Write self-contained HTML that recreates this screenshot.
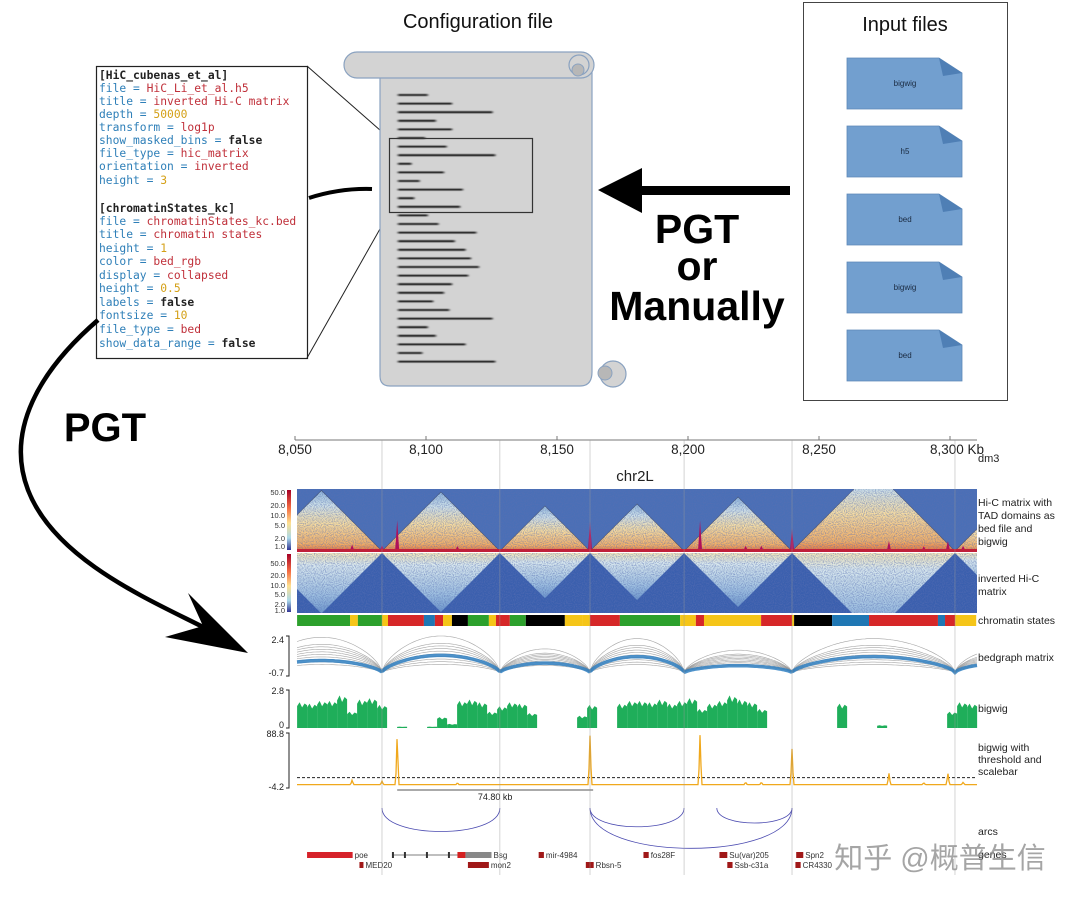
<!DOCTYPE html>
<html><head><meta charset="utf-8">
<style>
html,body{margin:0;padding:0;background:#fff;}
svg{display:block;}
text{font-family:"Liberation Sans","DejaVu Sans",sans-serif;}
.mono text{font-family:"DejaVu Sans Mono","Liberation Mono",monospace;font-size:11.3px;}
</style></head>
<body>
<svg id="fig" width="1080" height="903" viewBox="0 0 1080 903" xmlns="http://www.w3.org/2000/svg">
<defs>
  <linearGradient id="tadG" x1="0" y1="1" x2="0" y2="0">
    <stop offset="0" stop-color="#e8743a"/>
    <stop offset="0.12" stop-color="#f3b066"/>
    <stop offset="0.45" stop-color="#f7dca0"/>
    <stop offset="0.75" stop-color="#cfe1e8"/>
    <stop offset="1" stop-color="#8fb6da"/>
  </linearGradient>
  <linearGradient id="invG" x1="0" y1="0" x2="0" y2="1">
    <stop offset="0" stop-color="#f4e6b8"/>
    <stop offset="0.2" stop-color="#d9e8ee"/>
    <stop offset="0.7" stop-color="#9dbfe0"/>
    <stop offset="1" stop-color="#6d97cc"/>
  </linearGradient>
  <linearGradient id="cbar" x1="0" y1="0" x2="0" y2="1">
    <stop offset="0" stop-color="#a50026"/><stop offset="0.3" stop-color="#f46d43"/>
    <stop offset="0.55" stop-color="#fee090"/><stop offset="0.8" stop-color="#abd9e9"/>
    <stop offset="1" stop-color="#313695"/>
  </linearGradient>
  <filter id="noise" x="0" y="0" width="100%" height="100%">
    <feTurbulence type="fractalNoise" baseFrequency="0.9" numOctaves="1" seed="3"/>
    <feColorMatrix values="0 0 0 0 0.1  0 0 0 0 0.16  0 0 0 0 0.45  0 0 0 3 -1.2"/>
  </filter>
  <filter id="blur1" x="-10%" y="-50%" width="120%" height="200%"><feGaussianBlur stdDeviation="1.2 0.5"/></filter>
  <clipPath id="hicClip"><rect x="297" y="489" width="680" height="62"/></clipPath>
  <clipPath id="invClip"><rect x="297" y="553" width="680" height="60"/></clipPath>
</defs>

<!-- ============ CONFIG BOX ============ -->
<rect x="96.5" y="66.5" width="211" height="292" fill="#fff" stroke="#222" stroke-width="1.2"/>
<g class="mono">
<text x="99" y="79"><tspan fill="#222" font-weight="bold">[HiC_cubenas_et_al]</tspan></text>
<text x="99" y="92"><tspan fill="#2e7fb8">file = </tspan><tspan fill="#c0303a">HiC_Li_et_al.h5</tspan></text>
<text x="99" y="105"><tspan fill="#2e7fb8">title = </tspan><tspan fill="#c0303a">inverted Hi-C matrix</tspan></text>
<text x="99" y="118"><tspan fill="#2e7fb8">depth = </tspan><tspan fill="#d4a017">50000</tspan></text>
<text x="99" y="131"><tspan fill="#2e7fb8">transform = </tspan><tspan fill="#c0303a">log1p</tspan></text>
<text x="99" y="144"><tspan fill="#2e7fb8">show_masked_bins = </tspan><tspan fill="#222" font-weight="bold">false</tspan></text>
<text x="99" y="157"><tspan fill="#2e7fb8">file_type = </tspan><tspan fill="#c0303a">hic_matrix</tspan></text>
<text x="99" y="170"><tspan fill="#2e7fb8">orientation = </tspan><tspan fill="#c0303a">inverted</tspan></text>
<text x="99" y="184"><tspan fill="#2e7fb8">height = </tspan><tspan fill="#d4a017">3</tspan></text>
<text x="99" y="212"><tspan fill="#222" font-weight="bold">[chromatinStates_kc]</tspan></text>
<text x="99" y="225"><tspan fill="#2e7fb8">file = </tspan><tspan fill="#c0303a">chromatinStates_kc.bed</tspan></text>
<text x="99" y="238"><tspan fill="#2e7fb8">title = </tspan><tspan fill="#c0303a">chromatin states</tspan></text>
<text x="99" y="252"><tspan fill="#2e7fb8">height = </tspan><tspan fill="#d4a017">1</tspan></text>
<text x="99" y="265"><tspan fill="#2e7fb8">color = </tspan><tspan fill="#c0303a">bed_rgb</tspan></text>
<text x="99" y="279"><tspan fill="#2e7fb8">display = </tspan><tspan fill="#c0303a">collapsed</tspan></text>
<text x="99" y="292"><tspan fill="#2e7fb8">height = </tspan><tspan fill="#d4a017">0.5</tspan></text>
<text x="99" y="306"><tspan fill="#2e7fb8">labels = </tspan><tspan fill="#222" font-weight="bold">false</tspan></text>
<text x="99" y="319"><tspan fill="#2e7fb8">fontsize = </tspan><tspan fill="#d4a017">10</tspan></text>
<text x="99" y="333"><tspan fill="#2e7fb8">file_type = </tspan><tspan fill="#c0303a">bed</tspan></text>
<text x="99" y="347"><tspan fill="#2e7fb8">show_data_range = </tspan><tspan fill="#222" font-weight="bold">false</tspan></text>
</g>

<!-- zoom lines -->
<line x1="307" y1="66" x2="389" y2="138" stroke="#222" stroke-width="1"/>
<line x1="307" y1="358" x2="389" y2="213" stroke="#222" stroke-width="1"/>
<path d="M309,198 Q340,188 372,189" fill="none" stroke="#000" stroke-width="4"/>

<!-- ============ SCROLL ============ -->
<text x="478" y="28" font-size="20" text-anchor="middle" fill="#111">Configuration file</text>
<g>
  <path d="M380,70 L592,70 L592,372 Q592,386 580,386 L390,386 Q380,386 380,376 Z" fill="#d3d3d3" stroke="#8aa2c0" stroke-width="1.2"/>
  <rect x="344" y="52" width="250" height="26" rx="13" fill="#d3d3d3" stroke="#8aa2c0" stroke-width="1.2"/>
  <circle cx="579" cy="65" r="10" fill="#d3d3d3" stroke="#8aa2c0" stroke-width="1.2"/>
  <circle cx="578" cy="70" r="6" fill="#b7b7b7" stroke="#8aa2c0" stroke-width="1"/>
  <circle cx="613" cy="374" r="13" fill="#d3d3d3" stroke="#8aa2c0" stroke-width="1.2"/>
  <circle cx="605" cy="373" r="7" fill="#b7b7b7" stroke="#8aa2c0" stroke-width="1"/>
  <g id="scrollLines" filter="url(#blur1)"></g>
  <rect x="389.5" y="138.5" width="143" height="74" fill="none" stroke="#333" stroke-width="1.2"/>
</g>

<!-- ============ ARROW PGT or Manually ============ -->
<g>
  <rect x="638" y="186" width="152" height="9" fill="#000"/>
  <polygon points="598,190 642,168 642,213" fill="#000"/>
</g>
<g font-weight="bold" fill="#000" text-anchor="middle">
  <text x="697" y="243" font-size="41">PGT</text>
  <text x="697" y="280" font-size="41">or</text>
  <text x="697" y="320" font-size="41">Manually</text>
</g>

<!-- ============ INPUT FILES ============ -->
<rect x="803.5" y="2.5" width="204" height="398" fill="#fff" stroke="#444" stroke-width="1"/>
<text x="905" y="31" font-size="20" text-anchor="middle" fill="#111">Input files</text>
<g id="files"></g>

<!-- ============ LEFT PGT CURVE ============ -->
<path d="M98,320 C40,370 5,430 28,490 C55,560 150,600 205,628" fill="none" stroke="#000" stroke-width="4.5"/>
<polygon points="188,593 248,653 165,637 203,626" fill="#000"/>
<text x="105" y="441" font-size="40" font-weight="bold" text-anchor="middle" fill="#000">PGT</text>

<!-- ============ GENOME TRACKS ============ -->
<g id="tracks">
  <line x1="295" y1="440" x2="977" y2="440" stroke="#777" stroke-width="1"/>
  <g id="xTicks"></g>
  <text x="978" y="462" font-size="11" fill="#222">dm3</text>
  <text x="635" y="481" font-size="15" text-anchor="middle" fill="#222">chr2L</text>

  <!-- Hi-C -->
  <g clip-path="url(#hicClip)">
    <rect x="297" y="489" width="680" height="62" fill="#4a6fb6"/>
    <g id="hicTads"></g>
    <rect x="297" y="489" width="680" height="62" filter="url(#noise)" opacity="0.55"/>
    <g id="hicSig"></g>
  </g>
  <rect x="297" y="549" width="680" height="3" fill="#c0203a"/>
  <g clip-path="url(#invClip)">
    <rect x="297" y="553" width="680" height="60" fill="#3a5fae"/>
    <g id="invTads"></g>
    <rect x="297" y="553" width="680" height="60" filter="url(#noise)" opacity="0.55"/>
  </g>
  <rect x="287" y="490" width="4" height="60" fill="url(#cbar)"/>
  <rect x="287" y="554" width="4" height="58" fill="url(#cbar)"/>
  <g font-size="7.5" fill="#333" text-anchor="end">
    <text x="285" y="495">50.0</text><text x="285" y="508">20.0</text><text x="285" y="518">10.0</text><text x="285" y="528">5.0</text><text x="285" y="541">2.0</text><text x="285" y="549">1.0</text>
    <text x="285" y="566">50.0</text><text x="285" y="578">20.0</text><text x="285" y="588">10.0</text><text x="285" y="597">5.0</text><text x="285" y="607">2.0</text><text x="285" y="613">1.0</text>
  </g>

  <g id="chrom"></g>
  <g id="bedgraph"></g>
  <g id="bigwig"></g>
  <g id="thresh"></g>
  <g id="arcs"></g>
  <g id="genes"></g>
  <g id="grid"></g>

  <g font-size="10.5" fill="#222">
    <text x="978" y="506">Hi-C matrix with</text>
    <text x="978" y="519">TAD domains as</text>
    <text x="978" y="532">bed file and</text>
    <text x="978" y="545">bigwig</text>
    <text x="978" y="582">inverted Hi-C</text>
    <text x="978" y="595">matrix</text>
    <text x="978" y="624">chromatin states</text>
    <text x="978" y="661">bedgraph matrix</text>
    <text x="978" y="712">bigwig</text>
    <text x="978" y="751">bigwig with</text>
    <text x="978" y="763">threshold and</text>
    <text x="978" y="775">scalebar</text>
    <text x="978" y="835">arcs</text>
    <text x="978" y="858">genes</text>
  </g>
</g>

<text x="940" y="868" font-size="29" text-anchor="middle" fill="#888" opacity="0.75" font-family="'Liberation Sans','Noto Sans CJK SC',sans-serif">知乎 @概普生信</text>

<script>
// ---------- data ----------
const tickKb = [8050, 8100, 8150, 8200, 8250, 8300];
const tickLabels = ["8,050", "8,100", "8,150", "8,200", "8,250", "8,300 Kb"];
const gridKb = [8083.2, 8128.2, 8162.6, 8198.5, 8239.7, 8301.9];
const tadStartKb = [8037.0, 8083.2, 8128.2, 8162.6, 8198.5, 8239.7, 8301.9];
const tadEndKb   = [8083.2, 8128.2, 8162.6, 8198.5, 8239.7, 8301.9, 8330.0];
const stateStartKb = [8050.8,8071.0,8074.0,8083.2,8085.5,8099.2,8103.4,8106.5,8109.9,8116.0,8124.0,8126.7,8132.0,8138.1,8153.0,8159.9,8162.6,8174.0,8197.0,8203.0,8206.1,8227.9,8239.7,8240.5,8255.0,8269.1,8295.4,8298.1,8302.0];
const stateEndKb   = [8071.0,8074.0,8083.2,8085.5,8099.2,8103.4,8106.5,8109.9,8116.0,8124.0,8126.7,8132.0,8138.1,8153.0,8159.9,8162.6,8174.0,8197.0,8203.0,8206.1,8227.9,8239.7,8240.5,8255.0,8269.1,8295.4,8298.1,8302.0,8310.0];
const stateType = ["g","y","g","y","r","b","r","y","k","g","y","r","g","k","y","y","r","g","y","r","y","r","y","k","b","r","b","r","y"];
const bedgraphMax    = [2.3, 2.4, 1.4, 2.2, 1.3, 2.2, 1.2];
const bedgraphMedian = [0.5, 0.9, 0.3, 0.8, 0.1, 0.8, 0.2];
const bigwigStartKb = 8050.8;
const bigwigBinKb = 3.817;
const bigwigValues = [1.9,1.8,2.0,2.0,2.4,1.2,2.1,2.2,1.7,0,0.1,0,0,0.1,0.8,0.3,2.0,2.1,1.9,1.2,1.6,1.9,1.8,1.1,0,0,0,0,0.9,1.7,0,0,1.8,2.0,2.0,1.9,2.1,1.8,2.0,2.2,1.4,1.8,2.0,2.4,2.1,1.9,1.4,0,0,0,0,0,0,0,1.8,0,0,0,0.2,0,0,0,0,0,0,1.2,1.9,1.8];
const spikeKb  = [8071.8, 8083.2, 8089.0, 8112.0, 8162.6, 8204.6, 8222.0, 8228.0, 8239.7, 8276.7, 8290.0, 8299.2, 8305.0];
const spikeVal = [8, 6, 88.8, 3, 85, 88, 4, 4, 62, 20, 3, 20, 4];
const thresholdVal = 12;
const arcStartKb = [8083.2, 8162.6, 8162.6, 8211.0];
const arcEndKb   = [8128.2, 8198.5, 8239.7, 8239.7];
const scalebarKb = [8089.0, 8163.8];
const scrollLineLen = [22,40,70,28,40,20,36,72,10,34,16,48,12,46,22,30,58,42,50,54,60,52,40,34,26,38,70,22,28,50,18,72];
const fileLabels = ["bigwig","h5","bed","bigwig","bed"];
const geneStartKb = [8054.6, 8074.6, 8087, 8112, 8143, 8161, 8183, 8212, 8215, 8241.3, 8241];
const geneEndKb   = [8072.0, 8076.0, 8114, 8125, 8145, 8164, 8185, 8215, 8217, 8244, 8243];
const geneRow     = [0,1,0,0,0,1,0,0,1,0,1];
const geneNames   = ["poe","MED20","","Bsg","mir-4984","Rbsn-5","fos28F","Su(var)205","Ssb-c31a","Spn2","CR4330"];
const gene2StartKb = [8116.0];
const gene2EndKb   = [8124.0];
const gene2Names   = ["mon2"];

// ---------- scales ----------
const NS = "http://www.w3.org/2000/svg";
const sx = kb => 295 + (kb - 8050) * 2.62;
function mk(tag, attrs, parent) {
  const e = document.createElementNS(NS, tag);
  for (const k in attrs) e.setAttribute(k, attrs[k]);
  parent.appendChild(e);
  return e;
}
const $ = id => document.getElementById(id);

// scroll lines
scrollLineLen.forEach((len, i) => {
  const l = mk("line", {x1: 398, x2: 398 + len * 1.35, y1: 95 + i * 8.6, y2: 95 + i * 8.6, stroke: "#111", "stroke-width": 1.8}, $("scrollLines"));
  
  
});

// input files
fileLabels.forEach((lab, i) => {
  const y = 58 + i * 68, x = 847;
  const g = mk("g", {}, $("files"));
  
  
  mk("path", {d: `M${x},${y} L${x+92},${y} L${x+115},${y+15} L${x+115},${y+51} L${x},${y+51} Z`, fill: "#729fcf", stroke: "#5c88b8", "stroke-width": 0.8}, g);
  mk("path", {d: `M${x+92},${y} L${x+96},${y+18} L${x+115},${y+15} Z`, fill: "#4f7fb5"}, g);
  const t = mk("text", {x: x + 58, y: y + 28, "font-size": 8, "text-anchor": "middle", fill: "#1a2a40"}, g);
  t.textContent = lab;
});

// x ticks
tickKb.forEach((kb, i) => {
  const x = sx(kb);
  const tk = mk("line", {x1: x, x2: x, y1: 440, y2: 436, stroke: "#777"}, $("xTicks"));
  
  
  const t = mk("text", {x: x, y: 454, "font-size": 13.5, "text-anchor": i === tickKb.length - 1 ? "start" : "middle", fill: "#222", dx: i === tickKb.length - 1 ? -20 : 0}, $("xTicks"));
  t.textContent = tickLabels[i];
  
  
});

// Hi-C TADs
tadStartKb.forEach((s, i) => {
  const a = sx(s), b = sx(tadEndKb[i]), m = (a + b) / 2, h = (b - a) / 2;
  const p = mk("polygon", {points: `${a},551 ${m},${551 - h} ${b},551`, fill: "url(#tadG)", stroke: "#223", "stroke-width": 0.6, "stroke-opacity": 0.6}, $("hicTads"));
  
  
  const q = mk("polygon", {points: `${a},553 ${m},${553 + h} ${b},553`, fill: "url(#invG)"}, $("invTads"));
  
  
});
spikeKb.forEach((kb, i) => {
  const x = sx(kb), h = Math.min(60, spikeVal[i] * 0.3 + 3);
  const p = mk("polygon", {points: `${x-2},550 ${x},${550-h} ${x+2},550`, fill: "#b0105a"}, $("hicSig"));
  
  
});

// chromatin states
const stateColor = {g: "#2ca02c", y: "#f5c518", r: "#d62728", b: "#1f77b4", k: "#000000"};
stateStartKb.forEach((s, i) => {
  const r = mk("rect", {x: sx(s), y: 615, width: Math.max(0.5, sx(stateEndKb[i]) - sx(s)), height: 11, fill: stateColor[stateType[i]]}, $("chrom"));
  
  
});

// bedgraph matrix
const byBG = v => 676 - (v + 0.7) / 3.1 * 40;
(function () {
  const g = $("bedgraph");
  mk("path", {d: "M286,636 L289,636 L289,676 L286,676", fill: "none", stroke: "#222"}, g);
  const a1 = mk("text", {x: 284, y: 643, "font-size": 9, "text-anchor": "end", fill: "#222"}, g); a1.textContent = "2.4";
  const a2 = mk("text", {x: 284, y: 676, "font-size": 9, "text-anchor": "end", fill: "#222"}, g); a2.textContent = "-0.7";
  function curve(frac, useMed) {
    let d = "";
    for (let x = 297; x <= 977; x += 2) {
      const kb = 8050 + (x - 295) / 2.62;
      let idx = tadStartKb.findIndex((s, i) => kb >= s && kb < tadEndKb[i]);
      if (idx < 0) idx = 0;
      const s = tadStartKb[idx], e = tadEndKb[idx];
      const t = (kb - s) / (e - s);
      const top = useMed ? bedgraphMedian[idx] : bedgraphMax[idx] * frac;
      const base = -0.45;
      const v = base + (top - base) * Math.pow(Math.sin(Math.PI * t), 0.6);
      d += (d ? "L" : "M") + x + "," + byBG(v).toFixed(1);
    }
    return d;
  }
  for (let k = 1; k <= 10; k++) {
    const p = mk("path", {d: curve(k / 10 * 0.85 + 0.15 * (k === 10), false), fill: "none", stroke: "#888", "stroke-width": 0.6, opacity: 0.75}, g);
    
    
  }
  const m = mk("path", {d: curve(0, true), fill: "none", stroke: "#2f7fc1", "stroke-width": 3.5, opacity: 0.85}, g);
  
  
})();

// bigwig area
const byBW = v => 728 - v / 2.8 * 38;
(function () {
  const g = $("bigwig");
  mk("path", {d: "M286,690 L289,690 L289,728 L286,728", fill: "none", stroke: "#222"}, g);
  const a1 = mk("text", {x: 284, y: 694, "font-size": 9, "text-anchor": "end", fill: "#222"}, g); a1.textContent = "2.8";
  const a2 = mk("text", {x: 284, y: 728, "font-size": 9, "text-anchor": "end", fill: "#222"}, g); a2.textContent = "0";
  bigwigValues.forEach((v, i) => {
    if (v <= 0) return;
    const x0 = sx(bigwigStartKb + i * bigwigBinKb), x1 = sx(bigwigStartKb + (i + 1) * bigwigBinKb);
    const jag = `M${x0},728 L${x0},${byBW(v*0.85)} L${x0+2.5},${byBW(v)} L${x0+5},${byBW(v*0.8)} L${x0+7.5},${byBW(v*0.95)} L${x1},${byBW(v*0.88)} L${x1},728 Z`;
    const p = mk("path", {d: jag, fill: "#1fae5a"}, g);
    
    
  });
})();

// threshold bigwig
const byT = v => 787 - (v + 4.2) / 93 * 54;
(function () {
  const g = $("thresh");
  mk("path", {d: "M286,733 L289,733 L289,788 L286,788", fill: "none", stroke: "#222"}, g);
  const a1 = mk("text", {x: 284, y: 737, "font-size": 9, "text-anchor": "end", fill: "#222"}, g); a1.textContent = "88.8";
  const a2 = mk("text", {x: 284, y: 790, "font-size": 9, "text-anchor": "end", fill: "#222"}, g); a2.textContent = "-4.2";
  const tl = mk("line", {x1: 297, x2: 977, y1: byT(thresholdVal), y2: byT(thresholdVal), stroke: "#222", "stroke-dasharray": "3,2"}, g);
  
  
  let pts = [];
  for (let x = 297; x <= 977; x += 1) {
    const kb = 8050 + (x - 295) / 2.62;
    let v = 0;
    spikeKb.forEach((s, i) => { const dx = Math.abs(kb - s) * 2.62; if (dx < 1.5) v = Math.max(v, spikeVal[i] * (1 - dx / 1.5)); });
    pts.push(x + "," + byT(v).toFixed(1));
  }
  const l = mk("polyline", {points: pts.join(" "), fill: "none", stroke: "#f0a81c", "stroke-width": 1.3}, g);
  
  
  const sb = mk("line", {x1: sx(scalebarKb[0]), x2: sx(scalebarKb[1]), y1: 790, y2: 790, stroke: "#777", "stroke-width": 1.2}, g);
  
  
  const st = mk("text", {x: (sx(scalebarKb[0]) + sx(scalebarKb[1])) / 2, y: 800, "font-size": 9, "text-anchor": "middle", fill: "#222"}, g);
  st.textContent = (scalebarKb[1] - scalebarKb[0]).toFixed(2) + " kb";
})();

// arcs
arcStartKb.forEach((s, i) => {
  const a = sx(s), b = sx(arcEndKb[i]), d = (b - a) * 0.2, c = 808 + d * 1.33;
  const p = mk("path", {d: `M${a},808 C${a},${c} ${b},${c} ${b},808`, fill: "none", stroke: "#4a4ab0", "stroke-width": 0.8}, $("arcs"));
  
  
});

// genes
geneStartKb.forEach((s, i) => {
  const y = geneRow[i] ? 865 : 855;
  const g = mk("g", {}, $("genes"));
  
  
  const a = sx(s), b = sx(geneEndKb[i]);
  if (i === 2) {
    mk("line", {x1: a, x2: b, y1: y, y2: y, stroke: "#555", "stroke-width": 0.8}, g);
    [0, 12, 34, 56].forEach(o => mk("rect", {x: a + o, y: y - 3, width: 2, height: 6, fill: "#333"}, g));
  } else if (i === 3) {
    mk("rect", {x: a, y: y - 3, width: 8, height: 6, fill: "#d32020"}, g);
    mk("rect", {x: a + 8, y: y - 3, width: b - a - 8, height: 6, fill: "#888"}, g);
  } else {
    mk("rect", {x: a, y: y - 3, width: Math.max(4, b - a), height: 6, fill: i === 0 ? "#d6222a" : "#a01818"}, g);
  }
  if (geneNames[i]) {
    const t = mk("text", {x: Math.max(a + 4, b) + 2, y: y + 3, "font-size": 8, fill: "#333"}, g);
    t.textContent = geneNames[i];
  }
});
gene2StartKb.forEach((s, i) => {
  const g = mk("g", {}, $("genes"));
  
  
  mk("rect", {x: sx(s), y: 862, width: sx(gene2EndKb[i]) - sx(s), height: 6, fill: "#a01818"}, g);
  const t = mk("text", {x: sx(gene2EndKb[i]) + 2, y: 868, "font-size": 8, fill: "#333"}, g);
  t.textContent = gene2Names[i];
});

// vertical grid lines
gridKb.forEach(kb => {
  const l = mk("line", {x1: sx(kb), x2: sx(kb), y1: 440, y2: 875, stroke: "#999", "stroke-width": 0.6, opacity: 0.7}, $("grid"));
  
  
});
</script>
</svg>
</body></html>
